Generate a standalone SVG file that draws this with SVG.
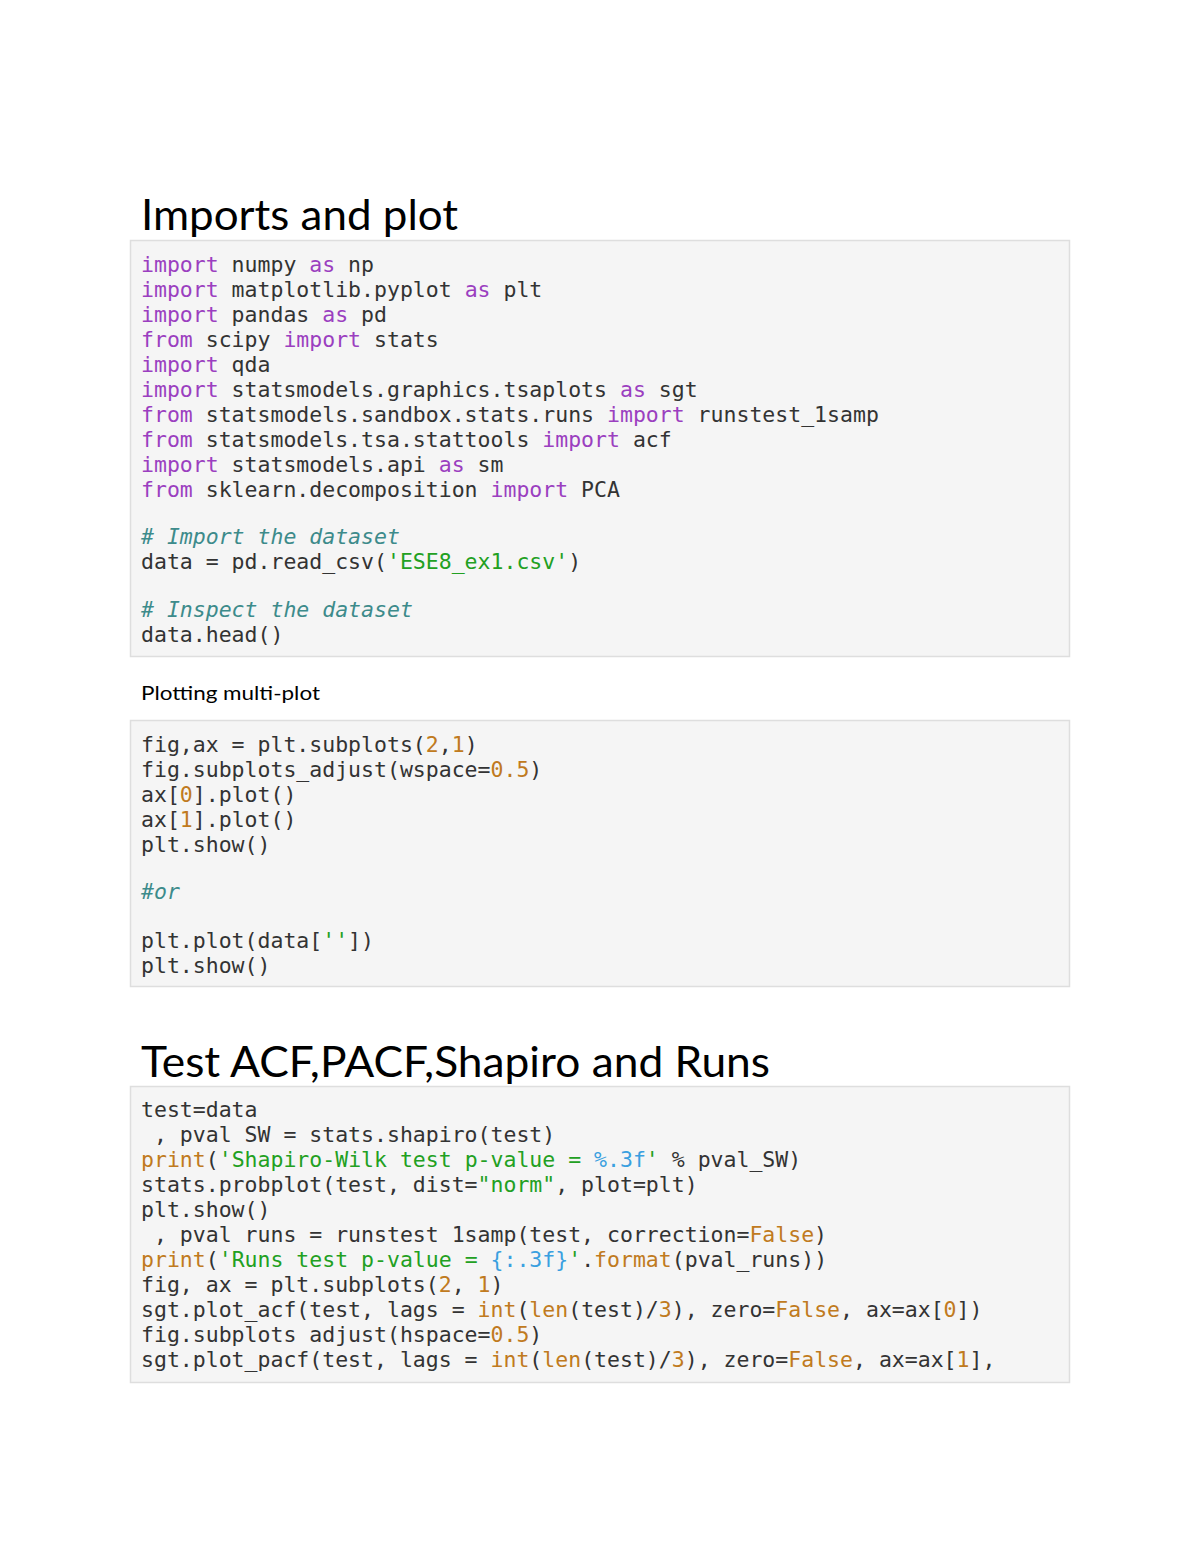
<svg xmlns="http://www.w3.org/2000/svg" width="1200" height="1553" viewBox="0 0 1200 1553">
<style>
.h{font-family:Lato,"Open Sans","Noto Sans",sans-serif;fill:#000}
.code{font-family:"DejaVu Sans Mono","Liberation Mono",monospace;font-size:21.5px;fill:#333}
.cell{fill:#f5f5f5;stroke:#dedede;stroke-width:1.5}
.k{fill:#9b3fc0}
.b{fill:#c07a20}
.n{fill:#c07a20}
.s{fill:#22a022}
.i{fill:#3aa0e0}
.c{fill:#3d8b8b;font-style:italic}
</style>
<rect width="1200" height="1553" fill="#fff"/>

<g id="section1">
<text class="h" x="141" y="230" font-size="42" textLength="317" lengthAdjust="spacingAndGlyphs">Imports and plot</text>
<rect class="cell" x="130.5" y="240.5" width="939" height="416"/>
<text class="code" x="141" y="271.5" xml:space="preserve"><tspan class="k">import</tspan> numpy <tspan class="k">as</tspan> np</text>
<text class="code" x="141" y="296.5" xml:space="preserve"><tspan class="k">import</tspan> matplotlib.pyplot <tspan class="k">as</tspan> plt</text>
<text class="code" x="141" y="321.5" xml:space="preserve"><tspan class="k">import</tspan> pandas <tspan class="k">as</tspan> pd</text>
<text class="code" x="141" y="346.5" xml:space="preserve"><tspan class="k">from</tspan> scipy <tspan class="k">import</tspan> stats</text>
<text class="code" x="141" y="371.5" xml:space="preserve"><tspan class="k">import</tspan> qda</text>
<text class="code" x="141" y="396.5" xml:space="preserve"><tspan class="k">import</tspan> statsmodels.graphics.tsaplots <tspan class="k">as</tspan> sgt</text>
<text class="code" x="141" y="421.5" xml:space="preserve"><tspan class="k">from</tspan> statsmodels.sandbox.stats.runs <tspan class="k">import</tspan> runstest_1samp</text>
<text class="code" x="141" y="446.5" xml:space="preserve"><tspan class="k">from</tspan> statsmodels.tsa.stattools <tspan class="k">import</tspan> acf</text>
<text class="code" x="141" y="471.5" xml:space="preserve"><tspan class="k">import</tspan> statsmodels.api <tspan class="k">as</tspan> sm</text>
<text class="code" x="141" y="496.5" xml:space="preserve"><tspan class="k">from</tspan> sklearn.decomposition <tspan class="k">import</tspan> PCA</text>
<text class="code c" x="141" y="543.5" xml:space="preserve"># Import the dataset</text>
<text class="code" x="141" y="569" xml:space="preserve">data = pd.read_csv(<tspan class="s">'ESE8_ex1.csv'</tspan>)</text>
<text class="code c" x="141" y="617" xml:space="preserve"># Inspect the dataset</text>
<text class="code" x="141" y="642" xml:space="preserve">data.head()</text>
</g>

<g id="section2">
<text class="h" x="141" y="700" font-size="20" textLength="179" lengthAdjust="spacingAndGlyphs">Plotting multi-plot</text>
<rect class="cell" x="130.5" y="720.5" width="939" height="266"/>
<text class="code" x="141" y="751.5" xml:space="preserve">fig,ax = plt.subplots(<tspan class="n">2</tspan>,<tspan class="n">1</tspan>)</text>
<text class="code" x="141" y="776.5" xml:space="preserve">fig.subplots_adjust(wspace=<tspan class="n">0.5</tspan>)</text>
<text class="code" x="141" y="801.5" xml:space="preserve">ax[<tspan class="n">0</tspan>].plot()</text>
<text class="code" x="141" y="826.5" xml:space="preserve">ax[<tspan class="n">1</tspan>].plot()</text>
<text class="code" x="141" y="851.5" xml:space="preserve">plt.show()</text>
<text class="code c" x="141" y="898.5" xml:space="preserve">#or</text>
<text class="code" x="141" y="947.5" xml:space="preserve">plt.plot(data[<tspan class="s">''</tspan>])</text>
<text class="code" x="141" y="972.5" xml:space="preserve">plt.show()</text>
</g>

<g id="section3">
<text class="h" x="141" y="1077" font-size="42" textLength="629" lengthAdjust="spacingAndGlyphs">Test ACF,PACF,Shapiro and Runs</text>
<rect class="cell" x="130.5" y="1086.5" width="939" height="296"/>
<text class="code" x="141" y="1116.5" xml:space="preserve">test=data</text>
<text class="code" x="141" y="1141.5" xml:space="preserve"> , pval SW = stats.shapiro(test)</text>
<text class="code" x="141" y="1166.5" xml:space="preserve"><tspan class="b">print</tspan>(<tspan class="s">'Shapiro-Wilk test p-value = </tspan><tspan class="i">%.3f</tspan><tspan class="s">'</tspan> % pval_SW)</text>
<text class="code" x="141" y="1191.5" xml:space="preserve">stats.probplot(test, dist=<tspan class="s">"norm"</tspan>, plot=plt)</text>
<text class="code" x="141" y="1216.5" xml:space="preserve">plt.show()</text>
<text class="code" x="141" y="1241.5" xml:space="preserve"> , pval runs = runstest 1samp(test, correction=<tspan class="b">False</tspan>)</text>
<text class="code" x="141" y="1266.5" xml:space="preserve"><tspan class="b">print</tspan>(<tspan class="s">'Runs test p-value = </tspan><tspan class="i">{:.3f}</tspan><tspan class="s">'</tspan>.<tspan class="b">format</tspan>(pval_runs))</text>
<text class="code" x="141" y="1291.5" xml:space="preserve">fig, ax = plt.subplots(<tspan class="n">2</tspan>, <tspan class="n">1</tspan>)</text>
<text class="code" x="141" y="1316.5" xml:space="preserve">sgt.plot_acf(test, lags = <tspan class="b">int</tspan>(<tspan class="b">len</tspan>(test)/<tspan class="n">3</tspan>), zero=<tspan class="b">False</tspan>, ax=ax[<tspan class="n">0</tspan>])</text>
<text class="code" x="141" y="1341.5" xml:space="preserve">fig.subplots adjust(hspace=<tspan class="n">0.5</tspan>)</text>
<text class="code" x="141" y="1366.5" xml:space="preserve">sgt.plot_pacf(test, lags = <tspan class="b">int</tspan>(<tspan class="b">len</tspan>(test)/<tspan class="n">3</tspan>), zero=<tspan class="b">False</tspan>, ax=ax[<tspan class="n">1</tspan>],</text>
</g>
</svg>
